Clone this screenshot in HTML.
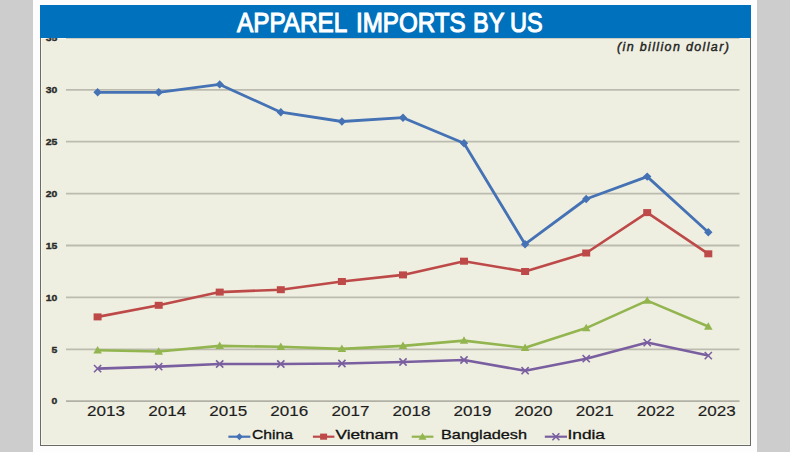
<!DOCTYPE html>
<html><head><meta charset="utf-8"><style>
html,body{margin:0;padding:0;}
body{width:790px;height:452px;background:#cdcdcd;position:relative;overflow:hidden;font-family:"Liberation Sans",sans-serif;}
#panel{position:absolute;left:33px;top:0;width:724px;height:452px;background:#fdfdfd;}
#chart{position:absolute;left:40px;top:38px;width:709px;height:407px;background:#efefe1;border:1px solid #6b6b66;border-top:none;box-shadow:inset 1px -1px 0 #f7f7ef;}
#hdr{position:absolute;left:40px;top:5px;width:711px;height:33px;background:#0071bd;}
.tw{position:absolute;top:0;height:33px;color:#fff;font-size:27px;line-height:37px;white-space:nowrap;transform-origin:0 0;transform:scaleX(0.90);-webkit-text-stroke:1.1px #fff;}
svg{position:absolute;left:0;top:0;}
.yl{font-size:9.6px;font-weight:bold;fill:#2a2a2a;stroke:#2a2a2a;stroke-width:0.35px;}
.xl{font-size:14px;fill:#1e1e1e;stroke:#1e1e1e;stroke-width:0.15px;}
.lg{font-size:13px;fill:#111;stroke:#111;stroke-width:0.3px;}
#unit{position:absolute;left:617px;top:39px;font-size:12.5px;line-height:16px;font-style:italic;color:#222;letter-spacing:1.35px;-webkit-text-stroke:0.4px #222;}
</style></head><body>
<div id="panel"></div>
<div id="chart"></div><div style="position:absolute;left:41px;top:38px;width:709px;height:1px;background:#f6f6ee"></div>
<svg width="790" height="452" viewBox="0 0 790 452">
<line x1="66" y1="401.2" x2="739.5" y2="401.2" stroke="#b0b0a5" stroke-width="1.8"/>
<text x="51.5" y="404.4" class="yl" textLength="5.8" lengthAdjust="spacingAndGlyphs">0</text>
<line x1="66" y1="349.3" x2="739.5" y2="349.3" stroke="#bbbbaf" stroke-width="1.8"/>
<text x="51.5" y="352.5" class="yl" textLength="5.8" lengthAdjust="spacingAndGlyphs">5</text>
<line x1="66" y1="297.4" x2="739.5" y2="297.4" stroke="#bbbbaf" stroke-width="1.8"/>
<text x="45.7" y="300.6" class="yl" textLength="11.6" lengthAdjust="spacingAndGlyphs">10</text>
<line x1="66" y1="245.5" x2="739.5" y2="245.5" stroke="#bbbbaf" stroke-width="1.8"/>
<text x="45.7" y="248.7" class="yl" textLength="11.6" lengthAdjust="spacingAndGlyphs">15</text>
<line x1="66" y1="193.6" x2="739.5" y2="193.6" stroke="#bbbbaf" stroke-width="1.8"/>
<text x="45.7" y="196.8" class="yl" textLength="11.6" lengthAdjust="spacingAndGlyphs">20</text>
<line x1="66" y1="141.7" x2="739.5" y2="141.7" stroke="#bbbbaf" stroke-width="1.8"/>
<text x="45.7" y="144.9" class="yl" textLength="11.6" lengthAdjust="spacingAndGlyphs">25</text>
<line x1="66" y1="89.8" x2="739.5" y2="89.8" stroke="#bbbbaf" stroke-width="1.8"/>
<text x="45.7" y="93.0" class="yl" textLength="11.6" lengthAdjust="spacingAndGlyphs">30</text>
<line x1="66" y1="37.9" x2="739.5" y2="37.9" stroke="#bbbbaf" stroke-width="1.8"/>
<text x="45.7" y="41.1" class="yl" textLength="11.6" lengthAdjust="spacingAndGlyphs">35</text>
<text x="87.1" y="416" class="xl" textLength="38" lengthAdjust="spacingAndGlyphs">2013</text>
<text x="148.2" y="416" class="xl" textLength="38" lengthAdjust="spacingAndGlyphs">2014</text>
<text x="209.2" y="416" class="xl" textLength="38" lengthAdjust="spacingAndGlyphs">2015</text>
<text x="270.3" y="416" class="xl" textLength="38" lengthAdjust="spacingAndGlyphs">2016</text>
<text x="331.4" y="416" class="xl" textLength="38" lengthAdjust="spacingAndGlyphs">2017</text>
<text x="392.5" y="416" class="xl" textLength="38" lengthAdjust="spacingAndGlyphs">2018</text>
<text x="453.5" y="416" class="xl" textLength="38" lengthAdjust="spacingAndGlyphs">2019</text>
<text x="514.6" y="416" class="xl" textLength="38" lengthAdjust="spacingAndGlyphs">2020</text>
<text x="575.7" y="416" class="xl" textLength="38" lengthAdjust="spacingAndGlyphs">2021</text>
<text x="636.7" y="416" class="xl" textLength="38" lengthAdjust="spacingAndGlyphs">2022</text>
<text x="697.8" y="416" class="xl" textLength="38" lengthAdjust="spacingAndGlyphs">2023</text>
<polyline points="97.6,368.6 158.7,366.6 219.7,364.0 280.8,364.0 341.9,363.5 403.0,362.0 464.0,360.0 525.1,370.7 586.2,358.7 647.2,342.6 708.3,355.6" fill="none" stroke="#7a5fa0" stroke-width="2.6" stroke-linejoin="round"/>
<path d="M94.0 365.0L101.2 372.2M101.2 365.0L94.0 372.2" stroke="#7a5fa0" stroke-width="1.6" fill="none"/>
<path d="M155.1 363.0L162.3 370.2M162.3 363.0L155.1 370.2" stroke="#7a5fa0" stroke-width="1.6" fill="none"/>
<path d="M216.1 360.4L223.3 367.6M223.3 360.4L216.1 367.6" stroke="#7a5fa0" stroke-width="1.6" fill="none"/>
<path d="M277.2 360.4L284.4 367.6M284.4 360.4L277.2 367.6" stroke="#7a5fa0" stroke-width="1.6" fill="none"/>
<path d="M338.3 359.9L345.5 367.1M345.5 359.9L338.3 367.1" stroke="#7a5fa0" stroke-width="1.6" fill="none"/>
<path d="M399.4 358.4L406.6 365.6M406.6 358.4L399.4 365.6" stroke="#7a5fa0" stroke-width="1.6" fill="none"/>
<path d="M460.4 356.4L467.6 363.6M467.6 356.4L460.4 363.6" stroke="#7a5fa0" stroke-width="1.6" fill="none"/>
<path d="M521.5 367.1L528.7 374.3M528.7 367.1L521.5 374.3" stroke="#7a5fa0" stroke-width="1.6" fill="none"/>
<path d="M582.6 355.1L589.8 362.3M589.8 355.1L582.6 362.3" stroke="#7a5fa0" stroke-width="1.6" fill="none"/>
<path d="M643.6 339.0L650.8 346.2M650.8 339.0L643.6 346.2" stroke="#7a5fa0" stroke-width="1.6" fill="none"/>
<path d="M704.7 352.0L711.9 359.2M711.9 352.0L704.7 359.2" stroke="#7a5fa0" stroke-width="1.6" fill="none"/>
<polyline points="97.6,350.3 158.7,351.5 219.7,345.9 280.8,346.8 341.9,348.9 403.0,345.9 464.0,340.6 525.1,347.8 586.2,328.1 647.2,300.6 708.3,326.5" fill="none" stroke="#93b550" stroke-width="2.6" stroke-linejoin="round"/>
<path d="M97.6 346.0L101.9 353.5L93.3 353.5Z" fill="#93b550"/>
<path d="M158.7 347.2L163.0 354.7L154.4 354.7Z" fill="#93b550"/>
<path d="M219.7 341.6L224.0 349.1L215.4 349.1Z" fill="#93b550"/>
<path d="M280.8 342.5L285.1 350.0L276.5 350.0Z" fill="#93b550"/>
<path d="M341.9 344.6L346.2 352.1L337.6 352.1Z" fill="#93b550"/>
<path d="M403.0 341.6L407.3 349.1L398.7 349.1Z" fill="#93b550"/>
<path d="M464.0 336.3L468.3 343.8L459.7 343.8Z" fill="#93b550"/>
<path d="M525.1 343.5L529.4 351.0L520.8 351.0Z" fill="#93b550"/>
<path d="M586.2 323.8L590.5 331.3L581.9 331.3Z" fill="#93b550"/>
<path d="M647.2 296.3L651.5 303.8L642.9 303.8Z" fill="#93b550"/>
<path d="M708.3 322.2L712.6 329.8L704.0 329.8Z" fill="#93b550"/>
<polyline points="97.6,316.9 158.7,305.3 219.7,292.1 280.8,289.7 341.9,281.5 403.0,274.9 464.0,261.2 525.1,271.5 586.2,253.0 647.2,212.6 708.3,253.8" fill="none" stroke="#bd4a48" stroke-width="2.6" stroke-linejoin="round"/>
<rect x="93.6" y="313.4" width="8" height="7.0" fill="#bd4a48"/>
<rect x="154.7" y="301.8" width="8" height="7.0" fill="#bd4a48"/>
<rect x="215.7" y="288.6" width="8" height="7.0" fill="#bd4a48"/>
<rect x="276.8" y="286.2" width="8" height="7.0" fill="#bd4a48"/>
<rect x="337.9" y="278.0" width="8" height="7.0" fill="#bd4a48"/>
<rect x="399.0" y="271.4" width="8" height="7.0" fill="#bd4a48"/>
<rect x="460.0" y="257.7" width="8" height="7.0" fill="#bd4a48"/>
<rect x="521.1" y="268.0" width="8" height="7.0" fill="#bd4a48"/>
<rect x="582.2" y="249.5" width="8" height="7.0" fill="#bd4a48"/>
<rect x="643.2" y="209.1" width="8" height="7.0" fill="#bd4a48"/>
<rect x="704.3" y="250.3" width="8" height="7.0" fill="#bd4a48"/>
<polyline points="97.6,92.3 158.7,92.3 219.7,84.4 280.8,112.2 341.9,121.5 403.0,117.7 464.0,143.3 525.1,244.2 586.2,199.0 647.2,176.6 708.3,232.3" fill="none" stroke="#4572b4" stroke-width="2.8" stroke-linejoin="round"/>
<path d="M97.6 88.1L101.8 92.3L97.6 96.5L93.4 92.3Z" fill="#4572b4"/>
<path d="M158.7 88.1L162.9 92.3L158.7 96.5L154.5 92.3Z" fill="#4572b4"/>
<path d="M219.7 80.2L223.9 84.4L219.7 88.6L215.5 84.4Z" fill="#4572b4"/>
<path d="M280.8 108.0L285.0 112.2L280.8 116.4L276.6 112.2Z" fill="#4572b4"/>
<path d="M341.9 117.3L346.1 121.5L341.9 125.7L337.7 121.5Z" fill="#4572b4"/>
<path d="M403.0 113.5L407.2 117.7L403.0 121.9L398.8 117.7Z" fill="#4572b4"/>
<path d="M464.0 139.1L468.2 143.3L464.0 147.5L459.8 143.3Z" fill="#4572b4"/>
<path d="M525.1 240.0L529.3 244.2L525.1 248.4L520.9 244.2Z" fill="#4572b4"/>
<path d="M586.2 194.8L590.4 199.0L586.2 203.2L582.0 199.0Z" fill="#4572b4"/>
<path d="M647.2 172.4L651.4 176.6L647.2 180.8L643.0 176.6Z" fill="#4572b4"/>
<path d="M708.3 228.1L712.5 232.3L708.3 236.5L704.1 232.3Z" fill="#4572b4"/>
<line x1="228.4" y1="436.7" x2="250.4" y2="436.7" stroke="#4572b4" stroke-width="2.2"/><path d="M239.4 433.2L242.9 436.7L239.4 440.2L235.9 436.7Z" fill="#4572b4"/>
<text x="252" y="439.3" class="lg" textLength="41" lengthAdjust="spacingAndGlyphs">China</text>
<line x1="312.9" y1="436.7" x2="334.4" y2="436.7" stroke="#bd4a48" stroke-width="2.2"/><rect x="320.1" y="433.6" width="7.0" height="6.1" fill="#bd4a48"/>
<text x="335.5" y="439.3" class="lg" textLength="63" lengthAdjust="spacingAndGlyphs">Vietnam</text>
<line x1="411.7" y1="436.7" x2="433.4" y2="436.7" stroke="#93b550" stroke-width="2.2"/><path d="M422.5 432.7L426.5 439.7L418.5 439.7Z" fill="#93b550"/>
<text x="441" y="439.3" class="lg" textLength="86" lengthAdjust="spacingAndGlyphs">Bangladesh</text>
<line x1="544.8" y1="436.7" x2="567" y2="436.7" stroke="#7a5fa0" stroke-width="2.2"/><path d="M552.4 433.2L559.4 440.2M559.4 433.2L552.4 440.2" stroke="#7a5fa0" stroke-width="1.6" fill="none"/>
<text x="567.5" y="439.3" class="lg" textLength="37.5" lengthAdjust="spacingAndGlyphs">India</text>
</svg>
<div id="hdr"><span class="tw" style="left:197px;transform:scaleX(0.90)">APPAREL</span><span class="tw" style="left:315.5px;transform:scaleX(0.895)">IMPORTS</span><span class="tw" style="left:432.5px;transform:scaleX(0.87)">BY</span><span class="tw" style="left:470.3px;transform:scaleX(0.87)">US</span></div>
<div id="unit">(in billion dollar)</div>
</body></html>
